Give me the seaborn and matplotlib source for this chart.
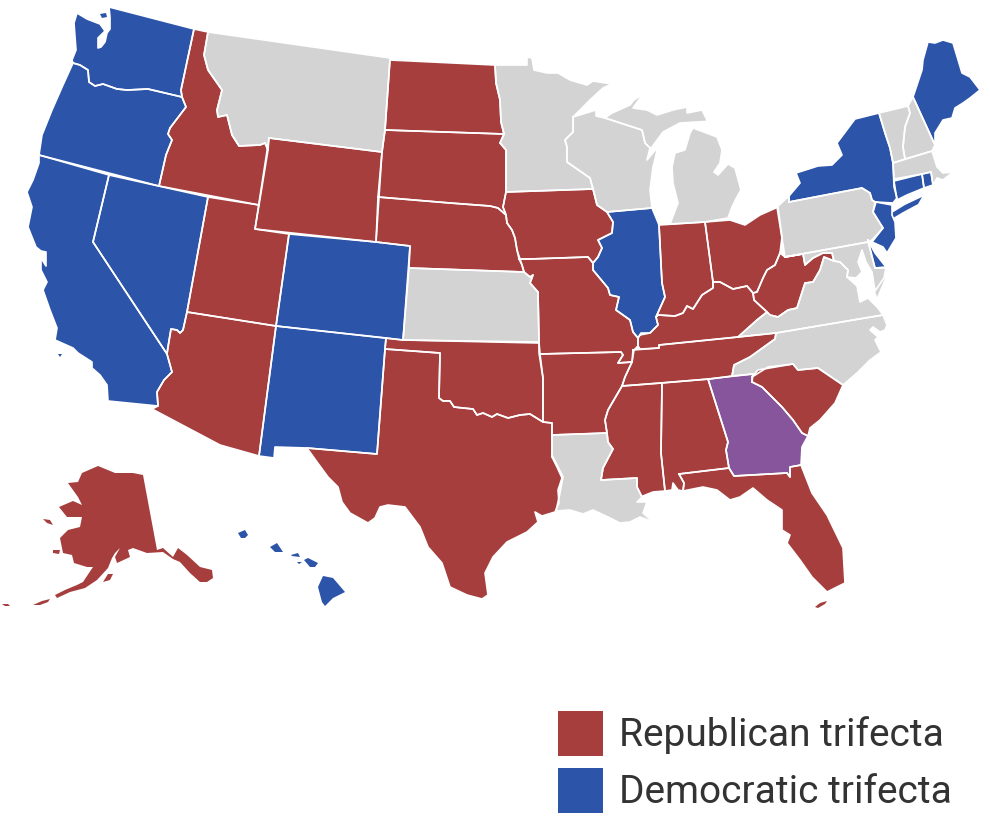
import matplotlib
matplotlib.use("Agg")
import matplotlib.pyplot as plt
from matplotlib.patches import Patch
import pandas as pd
import seaborn as sns

# State outlines (x, y on the 990x824 canvas, y pointing down)
WA = [(109,7),(194,29),(181,90),(182,97),(148,89),(127,90),(117,89),(103,84),(95,86),(89,82),(88,70),(80,65),(73,63),(72,60),(76,50),(74,23),(77,13),(87,19),(100,24),(105,31),(98,38),(98,48),(101,47),(105,42),(107,33),(110,29),(110,17)]
WA_SAN_JUAN = [(100,14),(106,13),(107,17),(102,18)]
OR = [(73,63),(80,65),(88,70),(89,82),(95,86),(103,84),(117,89),(127,90),(148,89),(182,97),(186,107),(170,128),(168,134),(172,140),(166,155),(159,186),(39,155),(42,135),(52,110),(63,85)]
CA = [(39,155),(109,175),(93,242),(167,354),(172,372),(164,380),(157,392),(158,406),(108,401),(107,385),(100,375),(92,368),(92,362),(78,353),(73,348),(55,340),(57,328),(50,310),(43,290),(47,282),(41,270),(41,258),(46,266),(46,252),(41,251),(36,247),(28,227),(32,207),(27,192),(33,180),(39,163)]
CA_ISLAND = [(58,354),(62,354),(60,357)]
NV = [(109,175),(208,197),(187,312),(183,330),(180,333),(177,330),(171,329),(168,347),(167,354),(93,242)]
ID = [(194,29),(208,32),(204,55),(208,70),(222,90),(217,110),(218,117),(227,115),(232,135),(239,146),(260,145),(265,143),(268,150),(259,205),(159,186),(166,155),(172,140),(168,134),(170,128),(186,107),(182,97),(181,90)]
MT = [(208,32),(390,58),(385,130),(382,152),(269,138),(268,150),(265,143),(260,145),(239,146),(232,135),(227,115),(218,117),(217,110),(222,90),(208,70),(204,55)]
WY = [(269,138),(382,152),(376,242),(255,229)]
UT = [(208,197),(259,205),(255,229),(289,234),(276,326),(187,312)]
CO = [(289,234),(376,242),(410,246),(403,340),(276,326)]
AZ = [(187,312),(276,326),(259,456),(220,445),(152,409),(158,406),(157,392),(164,380),(172,372),(167,354),(168,347),(171,329),(177,330),(180,333),(183,330)]
NM = [(276,326),(386,338),(385,349),(377,454),(307,448),(275,447),(274,458),(259,456)]
ND = [(390,60),(495,65),(496,83),(500,100),(501,122),(504,134),(385,130)]
SD = [(385,130),(504,134),(500,143),(506,150),(506,192),(503,207),(506,215),(498,208),(490,206),(450,203),(378,197),(382,152)]
NE = [(378,197),(450,203),(490,206),(498,208),(506,215),(507,223),(512,230),(515,238),(517,250),(522,265),(524,272),(409,268),(410,246),(376,242)]
KS = [(409,268),(524,272),(530,277),(533,275),(530,283),(538,292),(539,342),(403,340)]
OK = [(386,338),(403,340),(539,343),(539,353),(543,378),(543,422),(530,414),(520,415),(508,418),(497,414),(492,417),(483,413),(477,415),(473,409),(463,408),(454,407),(450,401),(443,401),(439,398),(440,353),(385,349)]
TX = [(385,349),(440,353),(439,398),(443,401),(450,401),(454,407),(463,408),(473,409),(477,415),(483,413),(492,417),(497,414),(508,418),(520,415),(530,414),(543,422),(552,423),(552,457),(557,467),(562,478),(558,490),(559,503),(555,512),(542,516),(535,512),(538,522),(527,532),(507,542),(493,557),(485,573),(488,595),(482,599),(467,595),(450,587),(442,563),(428,547),(420,527),(405,507),(388,505),(380,507),(375,518),(368,523),(350,513),(342,502),(338,487),(328,477),(317,462),(307,448),(377,454)]
MN = [(495,65),(527,65),(527,57),(532,58),(534,70),(547,73),(558,73),(570,80),(587,85),(593,81),(612,84),(603,88),(590,100),(573,117),(573,132),(565,140),(567,147),(567,162),(590,178),(593,189),(506,192),(506,150),(500,143),(504,134),(501,122),(500,100),(496,83)]
IA = [(506,192),(593,189),(597,205),(607,212),(613,222),(612,233),(598,240),(602,248),(598,257),(593,263),(588,257),(530,259),(519,259),(517,250),(515,238),(512,230),(507,223),(506,215),(503,207)]
MO = [(519,259),(530,259),(588,257),(593,263),(593,270),(608,288),(610,295),(619,297),(616,310),(630,320),(633,332),(638,338),(638,346),(634,350),(632,362),(618,363),(623,355),(621,352),(540,354),(539,342),(538,292),(530,283),(533,275),(530,277),(524,272),(522,265)]
AR = [(540,354),(621,352),(623,355),(618,363),(632,362),(625,377),(622,386),(608,410),(605,420),(607,433),(552,435),(552,423),(543,422),(543,378)]
LA = [(552,435),(607,433),(608,442),(613,449),(603,468),(601,480),(637,478),(637,487),(642,497),(637,502),(647,502),(643,513),(653,522),(640,517),(630,522),(620,523),(608,517),(593,510),(583,514),(570,510),(556,511),(560,493),(563,477),(553,457),(552,457)]
WI = [(573,117),(596,110),(596,116),(605,118),(642,130),(645,143),(650,148),(647,160),(658,147),(653,167),(650,190),(652,208),(607,212),(597,205),(593,189),(590,178),(567,162),(567,147),(565,140),(573,132)]
MI_UP = [(605,118),(612,113),(630,105),(634,100),(643,94),(633,108),(647,110),(657,115),(673,110),(687,107),(687,113),(702,110),(707,120),(713,121),(697,122),(680,123),(663,132),(652,147),(650,148),(645,143),(642,130)]
MI_LP = [(693,128),(717,137),(722,150),(720,163),(714,172),(718,175),(728,164),(735,168),(741,190),(737,197),(732,207),(728,218),(705,222),(670,224),(678,203),(673,183),(672,167),(675,153),(685,150),(690,133)]
IL = [(607,212),(652,208),(657,220),(659,225),(662,283),(665,297),(656,317),(658,325),(650,333),(641,333),(638,338),(633,332),(630,320),(616,310),(619,297),(610,295),(608,288),(593,270),(593,263),(598,257),(602,248),(598,240),(612,233),(613,222)]
IN = [(659,225),(705,222),(713,282),(713,288),(702,295),(693,309),(687,306),(683,313),(675,316),(658,315),(656,317),(665,297),(662,283)]
OH = [(705,222),(730,220),(745,225),(760,215),(778,207),(782,237),(780,253),(775,265),(767,270),(763,278),(757,292),(753,293),(747,286),(733,289),(720,282),(713,282)]
KY = [(640,335),(650,333),(658,325),(656,317),(658,315),(675,316),(683,313),(687,306),(693,309),(702,295),(713,288),(713,282),(720,282),(733,289),(747,286),(753,293),(754,300),(767,312),(757,320),(738,337),(659,345),(659,348),(640,349),(638,346),(638,338)]
TN = [(633,350),(659,348),(659,345),(738,337),(776,333),(775,339),(750,357),(734,365),(732,376),(710,379),(622,386),(625,377),(632,362)]
MS = [(622,386),(662,383),(661,453),(665,491),(653,492),(643,496),(642,497),(637,487),(637,478),(601,480),(603,468),(613,449),(608,442),(607,433),(605,420),(608,410)]
AL = [(662,383),(708,379),(728,442),(726,450),(729,468),(679,474),(684,483),(683,491),(678,490),(673,483),(672,490),(665,491),(661,453)]
GA = [(708,379),(753,374),(752,382),(762,387),(782,407),(793,420),(802,433),(808,436),(802,447),(801,465),(790,467),(790,477),(787,473),(734,476),(729,468),(726,450),(728,442)]
FL = [(679,474),(729,468),(734,476),(787,473),(790,477),(790,467),(801,465),(812,493),(827,515),(843,548),(845,583),(827,592),(812,577),(800,560),(787,543),(790,535),(782,530),(782,510),(767,500),(753,488),(740,497),(730,500),(717,490),(703,487),(683,491),(684,483)]
FL_KEYS = [(815,607),(820,603),(827,601),(825,604),(818,608)]
SC = [(752,382),(752,377),(758,370),(793,364),(798,370),(818,368),(843,385),(835,403),(820,420),(810,428),(808,436),(802,433),(793,420),(782,407),(762,387)]
NC = [(776,333),(883,315),(887,325),(885,330),(880,332),(873,327),(870,330),(878,337),(875,340),(881,352),(870,360),(857,373),(843,385),(818,368),(798,370),(793,364),(768,367),(752,377),(753,374),(732,376),(734,365),(750,357),(775,339)]
VA = [(738,337),(757,320),(767,312),(770,315),(778,317),(788,310),(797,308),(805,283),(813,282),(820,270),(824,257),(834,261),(840,262),(848,270),(847,277),(857,286),(860,302),(868,298),(873,303),(878,308),(883,315),(776,333)]
VA_SHORE = [(885,278),(877,297),(875,291),(879,281)]
WV = [(780,253),(785,257),(803,254),(805,265),(813,258),(823,253),(832,253),(834,261),(824,257),(820,270),(813,282),(805,283),(797,308),(788,310),(778,317),(770,315),(767,312),(754,300),(753,293),(757,292),(763,278),(767,270),(775,265)]
PA = [(777,207),(789,196),(789,202),(862,188),(870,193),(872,200),(875,202),(873,212),(883,228),(872,240),(868,242),(785,257)]
MD = [(785,257),(868,242),(875,268),(886,268),(884,278),(875,291),(872,272),(866,262),(862,250),(858,262),(862,272),(856,278),(847,277),(848,270),(840,262),(834,261),(832,253),(823,253),(813,258),(805,265),(803,254)]
DE = [(868,240),(875,253),(886,267),(875,268)]
NJ = [(876,202),(892,205),(892,215),(895,222),(896,238),(887,253),(883,247),(872,242),(883,228),(873,212)]
NY = [(789,202),(789,196),(800,183),(796,173),(818,166),(832,165),(842,155),(837,143),(855,119),(879,113),(885,133),(890,148),(893,163),(894,187),(897,198),(893,203),(875,202),(872,200),(870,193),(862,188)]
LONG_ISLAND = [(892,213),(905,205),(922,197),(918,204),(903,212),(893,218)]
CT = [(894,181),(922,174),(924,188),(907,195),(897,200)]
RI = [(922,174),(931,172),(933,185),(924,188)]
MA = [(893,163),(932,151),(937,167),(943,173),(953,172),(943,180),(937,178),(933,185),(931,172),(922,174),(894,179)]
VT = [(879,113),(908,106),(910,113),(905,127),(903,147),(905,159),(893,163),(890,148),(885,133)]
NH = [(908,106),(913,97),(935,145),(932,151),(905,159),(903,147),(905,127),(910,113)]
ME = [(913,97),(922,70),(923,60),(928,42),(935,43),(943,40),(953,43),(962,73),(970,77),(980,90),(970,98),(963,103),(955,108),(952,118),(943,120),(935,133),(935,145)]
AK = [(143,475),(157,550),(163,548),(173,557),(178,548),(187,555),(200,567),(212,570),(213,578),(207,582),(200,582),(190,573),(180,562),(173,559),(163,552),(147,553),(133,548),(128,550),(130,557),(117,563),(115,557),(120,548),(115,553),(112,558),(108,568),(97,580),(85,588),(70,592),(57,598),(55,595),(65,590),(77,585),(83,582),(93,567),(87,567),(74,563),(72,555),(63,553),(60,538),(68,530),(80,527),(82,517),(67,517),(59,507),(73,501),(82,505),(78,497),(68,483),(78,482),(82,473),(98,466),(115,473),(133,473)]
AK_ST_LAWRENCE = [(43,519),(50,520),(53,525),(47,523)]
AK_NUNIVAK = [(53,550),(60,550),(59,554),(53,553)]
AK_KODIAK = [(103,582),(108,574),(113,574),(110,580)]
AK_ALEUTIAN_A = [(33,605),(42,601),(50,599),(48,602),(40,605)]
AK_ALEUTIAN_B = [(2,604),(8,604),(10,606),(5,606)]
HI_BIG = [(323,576),(333,578),(345,592),(333,598),(325,606),(322,602),(318,587)]
HI_KAUAI = [(238,533),(245,530),(248,535),(245,538),(241,538)]
HI_OAHU = [(270,547),(277,543),(283,552),(275,552)]
HI_MOLOKAI = [(291,555),(298,553),(300,557),(292,556)]
HI_LANAI = [(297,562),(302,562),(299,564)]
HI_MAUI = [(304,560),(308,558),(318,563),(315,567),(310,567)]

# Which party holds each outline
REPUBLICAN = [ID, WY, UT, AZ, ND, SD, NE, OK, TX, IA, MO, AR, IN, OH, KY, TN, MS, AL, FL, FL_KEYS, SC, WV,
              AK, AK_ST_LAWRENCE, AK_NUNIVAK, AK_KODIAK, AK_ALEUTIAN_A, AK_ALEUTIAN_B]
DEMOCRATIC = [WA, WA_SAN_JUAN, OR, CA, CA_ISLAND, NV, CO, NM, IL, NY, LONG_ISLAND, NJ, DE, CT, RI, ME,
              HI_BIG, HI_KAUAI, HI_OAHU, HI_MOLOKAI, HI_LANAI, HI_MAUI]
DIVIDED = [MT, KS, MN, WI, MI_UP, MI_LP, LA, PA, MD, VA, VA_SHORE, NC, VT, NH, MA]
PURPLE = [GA]

# Small pieces keep their full size, no white stroke on them
UNSTROKED = [FL_KEYS, AK, AK_ST_LAWRENCE, AK_NUNIVAK, AK_KODIAK, AK_ALEUTIAN_A, AK_ALEUTIAN_B,
             WA_SAN_JUAN, CA_ISLAND, LONG_ISLAND, VA_SHORE,
             HI_BIG, HI_KAUAI, HI_OAHU, HI_MOLOKAI, HI_LANAI, HI_MAUI]

LEGEND_LABELS = ["Republican trifecta", "Democratic trifecta"]

RED = "#A63E3E"
BLUE = "#2C54A8"
GREY = "#D3D3D3"
VIOLET = "#87559B"


def outline_table(groups):
    """One row per vertex, every outline closed and given its own id."""
    rows = []
    part = 0
    for shapes in groups:
        for shape in shapes:
            if shape in UNSTROKED:
                continue
            for x, y in shape + shape[:1]:
                rows.append((part, x, y))
            part += 1
    return pd.DataFrame(rows, columns=["part", "x", "y"])


def main():
    sns.set_theme(style="white")
    plt.rcParams["font.family"] = ["Roboto", "DejaVu Sans"]

    fig = plt.figure(figsize=(9.9, 8.24), dpi=100)
    ax = fig.add_axes([0, 0, 1, 1])

    for shapes, color in [(DIVIDED, GREY), (REPUBLICAN, RED), (DEMOCRATIC, BLUE), (PURPLE, VIOLET)]:
        for shape in shapes:
            xs, ys = zip(*shape)
            ax.fill(xs, ys, color=color, linewidth=0)

    # state borders
    borders = outline_table([DIVIDED, REPUBLICAN, DEMOCRATIC, PURPLE])
    sns.lineplot(data=borders, x="x", y="y", units="part", estimator=None, sort=False,
                 color="white", linewidth=1.2, legend=False, ax=ax)

    ax.set_xlim(0, 990)
    ax.set_ylim(824, 0)
    ax.axis("off")

    handles = [Patch(color=RED, linewidth=0), Patch(color=BLUE, linewidth=0)]
    ax.legend(handles, LEGEND_LABELS, loc="lower left", bbox_to_anchor=(558, 813),
              bbox_transform=ax.transData, frameon=False, fontsize=28, labelcolor="#333333",
              borderpad=0, borderaxespad=0, handlelength=1.157, handleheight=1.403,
              handletextpad=0.41, labelspacing=0.307)

    fig.savefig("out.png", dpi=100)


if __name__ == "__main__":
    main()
